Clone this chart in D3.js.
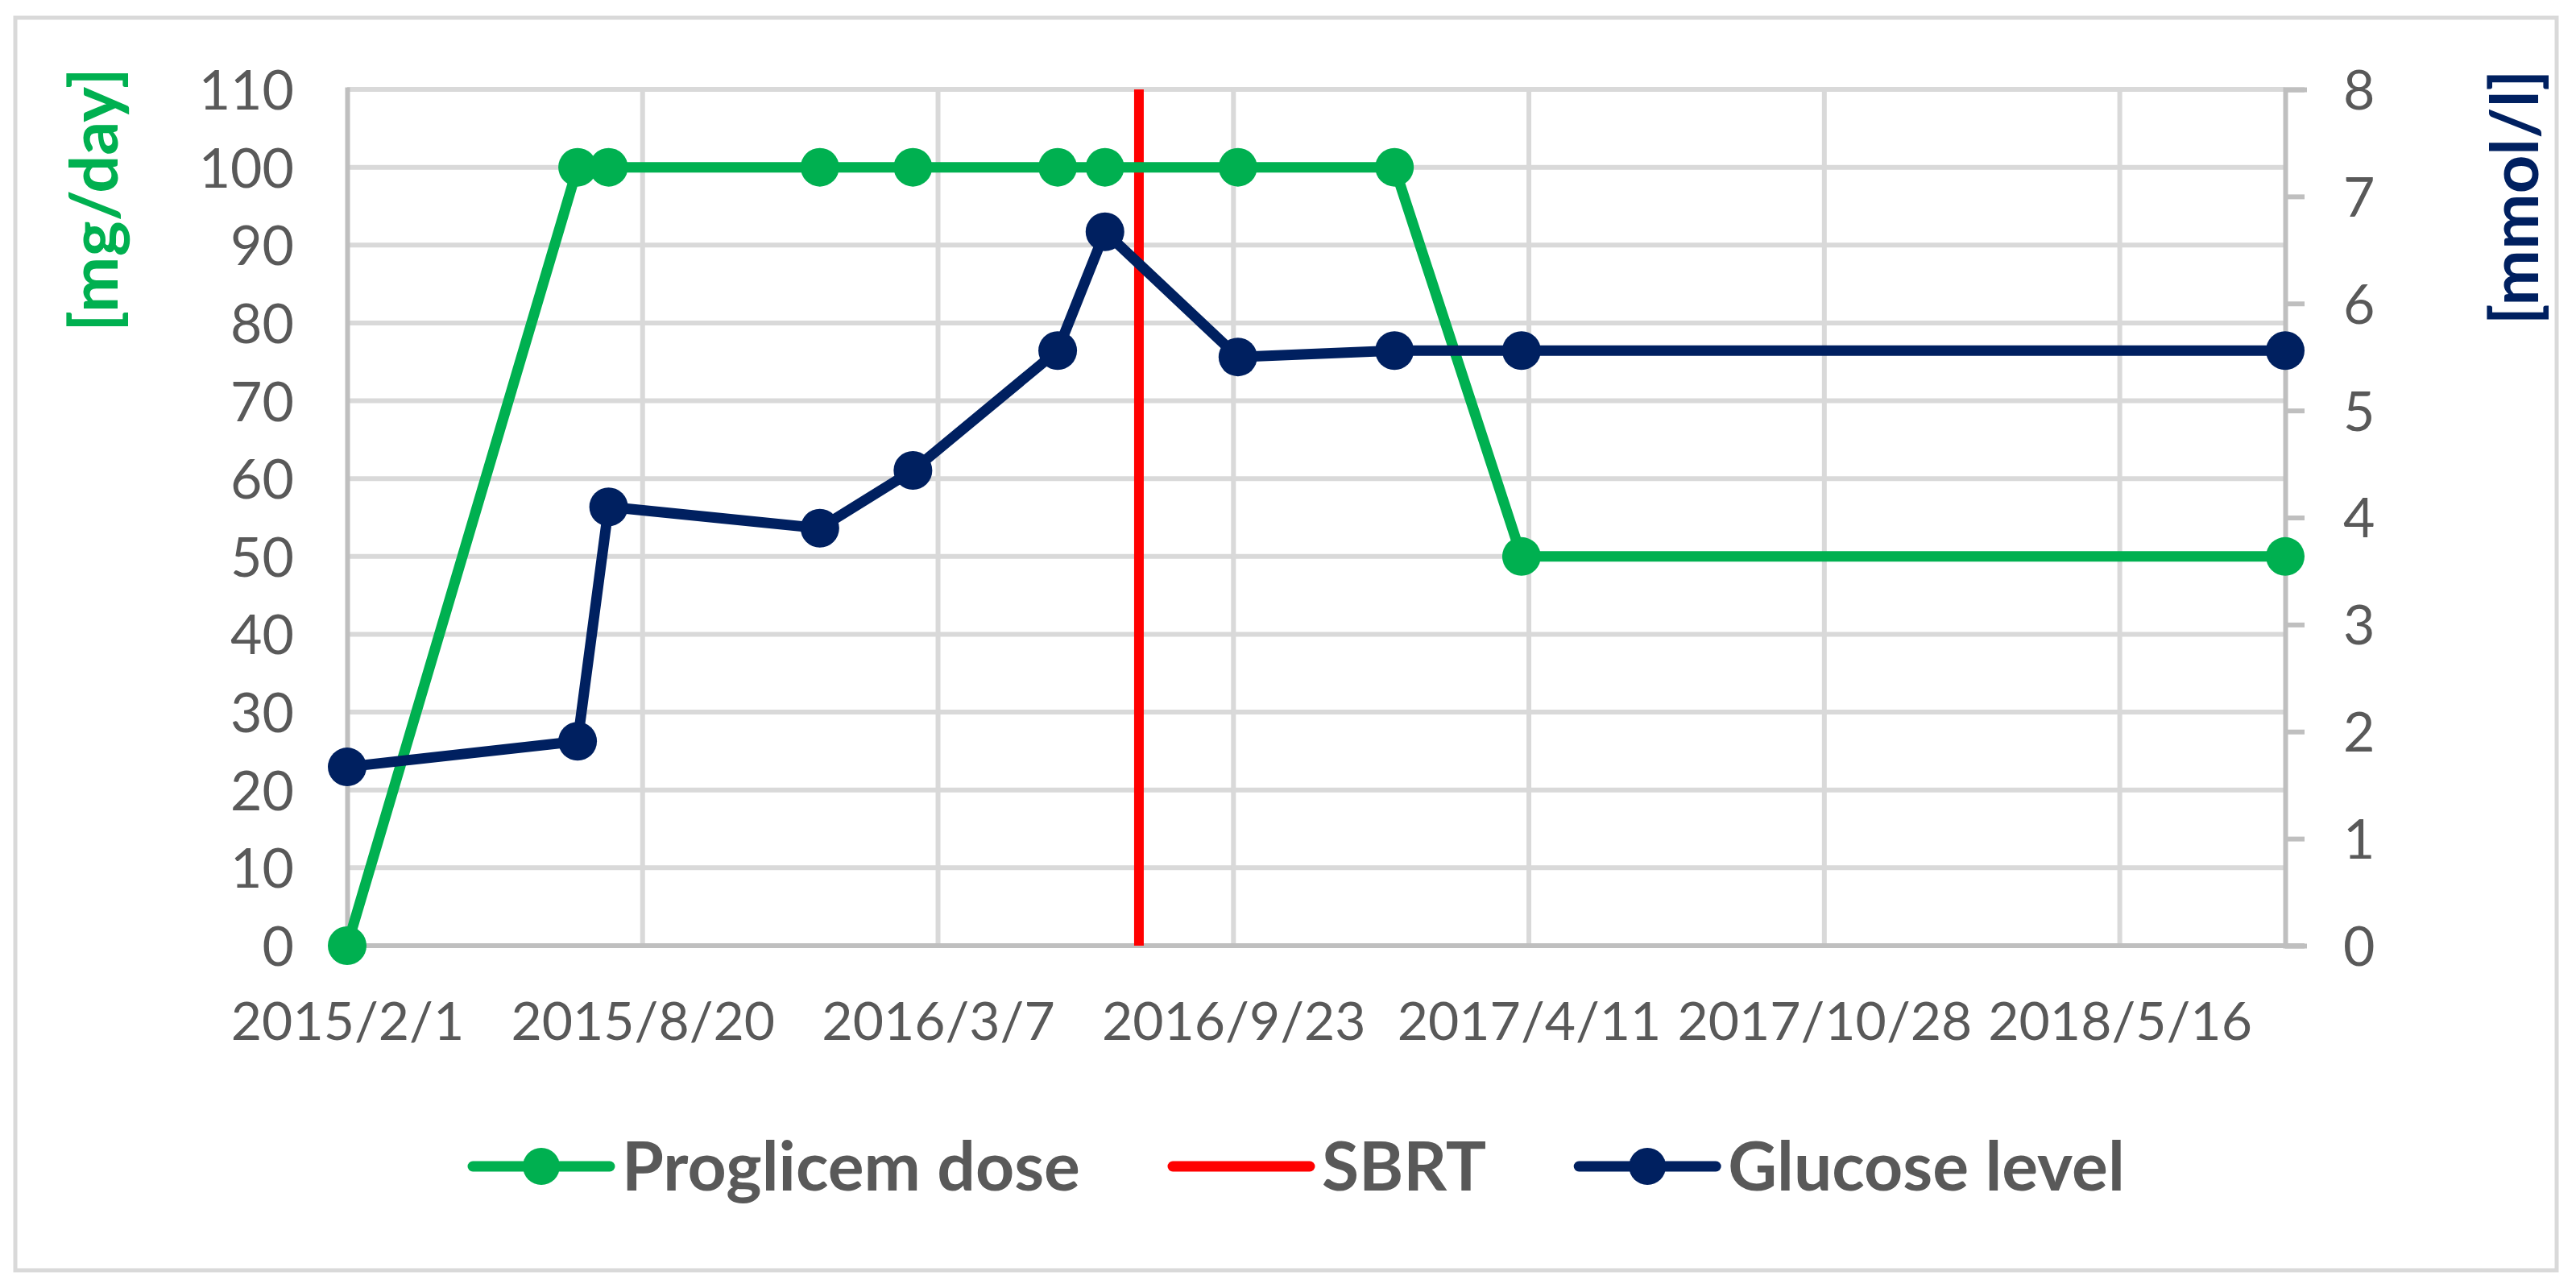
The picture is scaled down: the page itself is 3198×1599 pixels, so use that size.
<!DOCTYPE html>
<html>
<head>
<meta charset="utf-8">
<script src="https://cdn.jsdelivr.net/npm/d3@7"></script>
<style>
  body { margin: 0; background: #fff; }
  text { font-family: Lato, "Open Sans", sans-serif; fill: #595959; }
</style>
</head>
<body>
<svg id="chart" width="3198" height="1599"></svg>
<script>
// data
const visitDates = ["2015/2/1", "2015/7/7", "2015/7/28", "2015/12/18", "2016/2/19", "2016/5/27",
                    "2016/6/28", "2016/9/26", "2017/1/10", "2017/4/6", "2018/9/5"];
const doseValues = [0, 100, 100, 100, 100, 100, 100, 100, 100, 50, 50];
const glucoseValues = [1.67, 1.91, 4.10, 3.90, 4.44, 5.56, 6.67, 5.50, 5.56, 5.56, 5.56];
const sbrtDate = "2016/7/21";
const dateTickLabels = ["2015/2/1", "2015/8/20", "2016/3/7", "2016/9/23", "2017/4/11", "2017/10/28", "2018/5/16"];
const leftTicks = [0, 10, 20, 30, 40, 50, 60, 70, 80, 90, 100, 110];
const rightTicks = [0, 1, 2, 3, 4, 5, 6, 7, 8];
const seriesNames = ["Proglicem dose", "SBRT", "Glucose level"];

const GREEN = "#00B050", NAVY = "#002060", RED = "#FF0000";
const GRID = "#D9D9D9", AXIS = "#BFBFBF";

const parseDate = d3.utcParse("%Y/%m/%d");
const svg = d3.select("#chart");

const plot = { left: 431, right: 2837, top: 111, bottom: 1174 };

// chart border
svg.append("rect")
    .attr("x", 19).attr("y", 22)
    .attr("width", 3155).attr("height", 1555)
    .attr("fill", "none").attr("stroke", GRID).attr("stroke-width", 5);

const x = d3.scaleUtc()
    .domain([parseDate(visitDates[0]), parseDate(visitDates[visitDates.length - 1])])
    .range([plot.left, plot.right]);
const yLeft = d3.scaleLinear().domain([0, 110]).range([plot.bottom, plot.top]);
const yRight = d3.scaleLinear().domain([0, 8]).range([plot.bottom, plot.top]);

const dateTicks = dateTickLabels.map(parseDate);

// gridlines
const grid = svg.append("g");
grid.selectAll(".hgrid").data(leftTicks.slice(1)).join("line")
    .attr("x1", plot.left).attr("x2", plot.right)
    .attr("y1", d => yLeft(d)).attr("y2", d => yLeft(d))
    .attr("stroke", GRID).attr("stroke-width", 6);
grid.selectAll(".vgrid").data(dateTicks.slice(1)).join("line")
    .attr("x1", d => x(d)).attr("x2", d => x(d))
    .attr("y1", plot.top).attr("y2", plot.bottom)
    .attr("stroke", GRID).attr("stroke-width", 6);

// left axis
const leftAxis = svg.append("g")
    .attr("transform", `translate(${plot.left},0)`)
    .call(d3.axisLeft(yLeft).tickValues(leftTicks).tickSize(0).tickPadding(66));
leftAxis.select(".domain").attr("stroke", AXIS).attr("stroke-width", 6);
leftAxis.selectAll("text").attr("font-size", 68).attr("fill", "#595959")
    .attr("font-family", "Lato").attr("dy", "0.36em");

// right axis
const rightAxis = svg.append("g")
    .attr("transform", `translate(${plot.right},0)`)
    .call(d3.axisRight(yRight).tickValues(rightTicks).tickSize(24).tickPadding(48));
rightAxis.select(".domain").attr("stroke", AXIS).attr("stroke-width", 6);
rightAxis.selectAll("line").attr("stroke", AXIS).attr("stroke-width", 6);
rightAxis.selectAll("text").attr("font-size", 68).attr("fill", "#595959")
    .attr("font-family", "Lato").attr("dy", "0.36em");

// bottom axis
const bottomAxis = svg.append("g")
    .attr("transform", `translate(0,${plot.bottom})`)
    .call(d3.axisBottom(x).tickValues(dateTicks).tickSize(0).tickPadding(70)
        .tickFormat((d, i) => dateTickLabels[i]));
bottomAxis.select(".domain").remove();
bottomAxis.append("line")
    .attr("x1", plot.left - 3).attr("x2", plot.right + 24)
    .attr("stroke", AXIS).attr("stroke-width", 6);
bottomAxis.selectAll("text").attr("font-size", 66).attr("fill", "#595959")
    .attr("font-family", "Lato");
svg.selectAll(".domain").attr("stroke-linecap", "square");

// axis titles
svg.append("text")
    .attr("transform", "translate(114,248) rotate(-90)")
    .attr("text-anchor", "middle").attr("dominant-baseline", "central")
    .attr("font-size", 83).attr("font-weight", "bold")
    .style("fill", GREEN).text("[mg/day]");
svg.append("text")
    .attr("transform", "translate(3119,245) rotate(-90)")
    .attr("text-anchor", "middle").attr("dominant-baseline", "central")
    .attr("font-size", 83).attr("font-weight", "bold")
    .style("fill", NAVY).text("[mmol/l]");

const doseData = visitDates.map((d, i) => ({ date: parseDate(d), value: doseValues[i] }));
const glucoseData = visitDates.map((d, i) => ({ date: parseDate(d), value: glucoseValues[i] }));

// SBRT marker line
svg.append("line")
    .attr("x1", x(parseDate(sbrtDate))).attr("x2", x(parseDate(sbrtDate)))
    .attr("y1", yLeft(110)).attr("y2", yLeft(0))
    .attr("stroke", RED).attr("stroke-width", 12);

function drawSeries(data, yScale, color) {
    const line = d3.line().x(d => x(d.date)).y(d => yScale(d.value));
    const g = svg.append("g");
    g.append("path")
        .attr("d", line(data))
        .attr("fill", "none").attr("stroke", color)
        .attr("stroke-width", 13).attr("stroke-linejoin", "round");
    g.selectAll("circle").data(data).join("circle")
        .attr("cx", d => x(d.date)).attr("cy", d => yScale(d.value))
        .attr("r", 24).attr("fill", color);
}

drawSeries(doseData, yLeft, GREEN);
drawSeries(glucoseData, yRight, NAVY);

// legend
const legend = svg.append("g").attr("transform", "translate(0,1448)");
const legendColors = [GREEN, RED, NAVY];
const legendMarkers = [true, false, true];
let cursor = 587;
seriesNames.forEach((name, i) => {
    legend.append("line")
        .attr("x1", cursor).attr("x2", cursor + 170)
        .attr("stroke", legendColors[i]).attr("stroke-width", 13)
        .attr("stroke-linecap", "round");
    if (legendMarkers[i]) {
        legend.append("circle").attr("cx", cursor + 85).attr("r", 23)
            .attr("fill", legendColors[i]);
    }
    const t = legend.append("text")
        .attr("x", cursor + 185).attr("dy", "0.36em")
        .attr("font-size", 84).attr("font-weight", "bold")
        .text(name);
    cursor += 185 + t.node().getComputedTextLength() + 115;
});
</script>
</body>
</html>
